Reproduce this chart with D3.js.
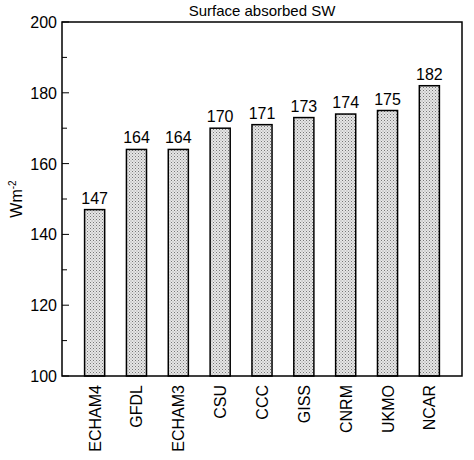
<!DOCTYPE html>
<html><head><meta charset="utf-8">
<script src="https://cdn.jsdelivr.net/npm/d3@7"></script>
<style>body{margin:0;background:#fff}text{font-family:"Liberation Sans",Arial,sans-serif}</style>
</head><body>
<svg id="c" width="474" height="460"></svg>
<script>
const models = ["ECHAM4","GFDL","ECHAM3","CSU","CCC","GISS","CNRM","UKMO","NCAR"];
const values = [147,164,164,170,171,173,174,175,182];
const majorTicks = [100,120,140,160,180,200];
const minorTicks = d3.range(100,201,10);

const svg = d3.select("#c");
const m = {l:62, r:462, t:22, b:376};

const defs = svg.append("defs");
const pat = defs.append("pattern").attr("id","dots").attr("width",3).attr("height",3)
  .attr("patternUnits","userSpaceOnUse");
pat.append("rect").attr("width",3).attr("height",3).attr("fill","#e6e6e6");
pat.append("rect").attr("width",1).attr("height",1).attr("fill","#777");
pat.append("rect").attr("x",1.5).attr("y",1.5).attr("width",1).attr("height",1).attr("fill","#999");

const x = d3.scaleBand().domain(models).range([m.l, m.r]).paddingInner(0.52).paddingOuter(0.54);
const y = d3.scaleLinear().domain([100,200]).range([m.b, m.t]);

svg.selectAll("rect.bar").data(values).enter().append("rect")
  .attr("class","bar")
  .attr("x",(d,i)=>x(models[i])).attr("width",x.bandwidth())
  .attr("y",d=>y(d)).attr("height",d=>y(100)-y(d))
  .attr("fill","url(#dots)").attr("stroke","#000").attr("stroke-width",1.5);

svg.selectAll("text.val").data(values).enter().append("text")
  .attr("x",(d,i)=>x(models[i])+x.bandwidth()/2).attr("y",d=>y(d)-6)
  .attr("text-anchor","middle").attr("font-size",16).text(d=>d);

svg.append("rect").attr("x",m.l).attr("y",m.t).attr("width",m.r-m.l).attr("height",m.b-m.t)
  .attr("fill","none").attr("stroke","#000").attr("stroke-width",1.5);

svg.selectAll("line.minor").data(minorTicks).enter().append("line")
  .attr("x1",m.l).attr("x2",d=>m.l+(majorTicks.includes(d)?7:5))
  .attr("y1",d=>y(d)).attr("y2",d=>y(d)).attr("stroke","#000");

svg.selectAll("text.yt").data(majorTicks).enter().append("text")
  .attr("x",m.l-5).attr("y",d=>y(d)+6).attr("text-anchor","end").attr("font-size",16).text(d=>d);

svg.selectAll("text.xl").data(models).enter().append("text")
  .attr("transform",d=>`translate(${x(d)+x.bandwidth()/2+6},${m.b+9}) rotate(-90)`)
  .attr("text-anchor","end").attr("font-size",16).text(d=>d);

svg.append("text").attr("x",(m.l+m.r)/2).attr("y",16).attr("text-anchor","middle")
  .attr("font-size",15).text("Surface absorbed SW");

const yl = svg.append("text").attr("transform",`translate(22,${(m.t+m.b)/2}) rotate(-90)`)
  .attr("text-anchor","middle").attr("font-size",16);
yl.append("tspan").text("Wm");
yl.append("tspan").attr("font-size",10).attr("dy",-6).text("-2");
</script>
</body></html>
